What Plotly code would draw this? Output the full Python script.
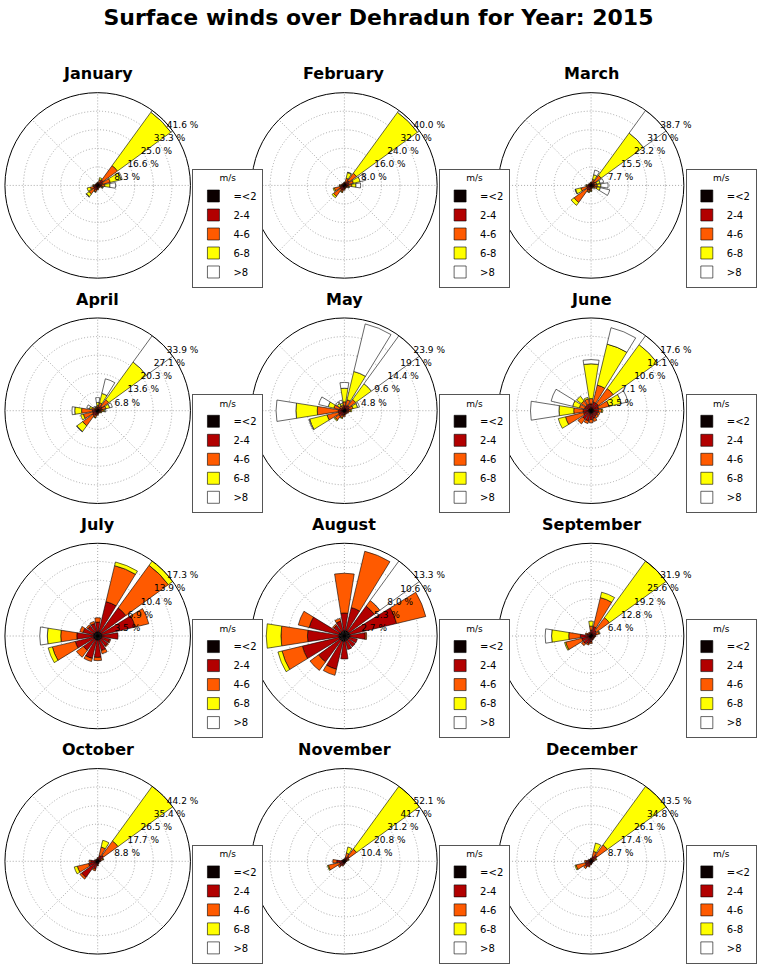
import plotly.graph_objects as go

W, H = 757, 964

months = ["January", "February", "March", "April", "May", "June",
          "July", "August", "September", "October", "November", "December"]
directions = [0, 22.5, 45, 67.5, 90, 112.5, 135, 157.5,
              180, 202.5, 225, 247.5, 270, 292.5, 315, 337.5]
speed_bins = ["=<2", "2-4", "4-6", "6-8", ">8"]
bin_colors = ["#0b0000", "#b20000", "#ff5a00", "#ffff00", "#ffffff"]

# radial tick labels (%) per month, as printed
tick_labels = {
    "January":   [8.3, 16.6, 25.0, 33.3, 41.6],
    "February":  [8.0, 16.0, 24.0, 32.0, 40.0],
    "March":     [7.7, 15.5, 23.2, 31.0, 38.7],
    "April":     [6.8, 13.6, 20.3, 27.1, 33.9],
    "May":       [4.8, 9.6, 14.4, 19.1, 23.9],
    "June":      [3.5, 7.1, 10.6, 14.1, 17.6],
    "July":      [3.5, 6.9, 10.4, 13.9, 17.3],
    "August":    [2.7, 5.3, 8.0, 10.6, 13.3],
    "September": [6.4, 12.8, 19.2, 25.6, 31.9],
    "October":   [8.8, 17.7, 26.5, 35.4, 44.2],
    "November":  [10.4, 20.8, 31.2, 41.7, 52.1],
    "December":  [8.7, 17.4, 26.1, 34.8, 43.5],
}

# frequency (%) per direction (N, NNE, ..., NNW); one list per speed bin
jan_le2 = [0.5, 0.6, 1.0, 0.8, 0.7, 0.6, 0.5, 0.5, 0.6, 0.7, 0.8, 0.7, 0.6, 0.5, 0.4, 0.4]
jan_2_4 = [0.6, 0.8, 2.0, 1.5, 1.0, 0.8, 0.5, 0.6, 1.0, 1.5, 1.6, 1.2, 0.8, 0.5, 0.4, 0.5]
jan_4_6 = [0.3, 1.2, 8.0, 3.5, 1.5, 0.6, 0.3, 0.3, 0.5, 0.8, 2.4, 1.5, 0.6, 0.3, 0.2, 0.3]
jan_6_8 = [0.0, 1.0, 29.6, 5.0, 2.3, 0.4, 0.0, 0.0, 0.0, 0.2, 1.5, 1.5, 0.2, 0.0, 0.0, 0.0]
jan_gt8 = [0.0, 0.0, 1.0, 0.5, 2.5, 0.2, 0.0, 0.0, 0.0, 0.0, 0.2, 0.0, 0.0, 0.0, 0.0, 0.0]

feb_le2 = [0.5, 0.6, 1.0, 0.8, 0.7, 0.6, 0.5, 0.5, 0.6, 0.7, 0.8, 0.7, 0.6, 0.5, 0.4, 0.4]
feb_2_4 = [0.6, 0.8, 1.5, 1.2, 1.0, 0.7, 0.5, 0.6, 1.0, 1.5, 1.5, 1.3, 0.8, 0.5, 0.4, 0.5]
feb_4_6 = [0.3, 1.8, 4.0, 2.0, 1.5, 0.5, 0.3, 0.3, 0.5, 0.8, 3.5, 2.5, 0.6, 0.3, 0.2, 0.3]
feb_6_8 = [0.0, 2.5, 32.5, 3.0, 1.8, 0.3, 0.0, 0.0, 0.0, 0.2, 0.8, 0.5, 0.2, 0.0, 0.0, 0.0]
feb_gt8 = [0.0, 0.2, 1.0, 2.5, 2.0, 0.2, 0.0, 0.0, 0.0, 0.0, 0.0, 0.0, 0.0, 0.0, 0.0, 0.0]

mar_le2 = [0.5, 0.6, 0.8, 0.6, 0.6, 0.6, 0.5, 0.5, 0.5, 0.6, 0.8, 0.7, 0.6, 0.5, 0.4, 0.4]
mar_2_4 = [0.6, 0.8, 1.2, 0.8, 0.8, 0.8, 0.5, 0.5, 1.0, 1.5, 1.5, 1.2, 0.8, 0.5, 0.4, 0.5]
mar_4_6 = [0.3, 1.2, 3.2, 1.0, 1.2, 1.2, 0.3, 0.3, 0.8, 0.8, 6.5, 2.5, 0.6, 0.3, 0.2, 0.3]
mar_6_8 = [0.0, 2.0, 21.8, 1.5, 1.5, 1.4, 0.2, 0.0, 0.2, 0.2, 1.5, 2.3, 0.2, 0.0, 0.0, 0.0]
mar_gt8 = [0.0, 2.0, 11.7, 1.5, 3.0, 4.0, 0.5, 0.0, 0.0, 0.0, 0.0, 0.2, 0.0, 0.0, 0.0, 0.0]

apr_le2 = [0.5, 0.6, 0.8, 0.6, 0.5, 0.5, 0.4, 0.4, 0.5, 0.6, 0.8, 0.7, 0.7, 0.5, 0.4, 0.4]
apr_2_4 = [0.7, 0.9, 1.2, 1.0, 0.8, 0.6, 0.4, 0.5, 0.8, 1.2, 1.5, 1.2, 1.2, 0.8, 0.5, 0.5]
apr_4_6 = [0.8, 1.5, 3.0, 1.5, 0.8, 0.3, 0.2, 0.2, 0.4, 0.8, 4.5, 3.5, 4.0, 1.0, 0.4, 0.4]
apr_6_8 = [1.0, 3.5, 17.0, 1.4, 0.5, 0.2, 0.0, 0.0, 0.0, 0.2, 2.6, 1.0, 2.5, 0.8, 0.3, 0.2]
apr_gt8 = [1.8, 5.5, 11.9, 1.0, 0.4, 0.0, 0.0, 0.0, 0.0, 0.0, 0.2, 0.0, 1.0, 1.0, 0.3, 0.2]

may_le2 = [0.5, 0.6, 0.6, 0.5, 0.5, 0.4, 0.4, 0.4, 0.5, 0.5, 0.6, 0.6, 0.6, 0.5, 0.4, 0.4]
may_2_4 = [0.8, 0.8, 1.0, 0.8, 0.6, 0.5, 0.4, 0.4, 0.6, 0.8, 1.2, 1.0, 1.0, 0.8, 0.5, 0.5]
may_4_6 = [1.0, 1.5, 2.0, 1.0, 0.5, 0.3, 0.2, 0.2, 0.4, 0.6, 1.2, 3.0, 5.4, 1.5, 0.6, 0.5]
may_6_8 = [3.5, 7.5, 5.0, 1.2, 0.3, 0.0, 0.0, 0.0, 0.0, 0.2, 0.3, 4.6, 5.5, 1.5, 0.8, 0.6]
may_gt8 = [1.5, 12.6, 15.3, 0.5, 0.0, 0.0, 0.0, 0.0, 0.0, 0.0, 0.0, 0.2, 5.1, 2.5, 0.5, 0.8]

jun_le2 = [0.5, 0.5, 0.5, 0.5, 0.5, 0.5, 0.5, 0.5, 0.5, 0.5, 0.5, 0.5, 0.5, 0.5, 0.5, 0.5]
jun_2_4 = [0.8, 1.2, 1.2, 1.0, 0.9, 0.8, 0.8, 1.0, 1.2, 1.5, 1.5, 1.0, 1.0, 0.8, 0.8, 0.8]
jun_4_6 = [1.0, 3.3, 3.5, 2.0, 0.6, 0.4, 0.4, 0.6, 0.6, 0.5, 1.1, 3.5, 1.8, 1.0, 1.0, 1.0]
jun_6_8 = [6.6, 8.0, 10.3, 2.4, 0.2, 0.0, 0.0, 0.0, 0.0, 0.0, 0.0, 1.4, 2.8, 1.3, 1.1, 0.3]
jun_gt8 = [0.8, 3.2, 2.1, 1.3, 0.0, 0.0, 0.0, 0.0, 0.0, 0.0, 0.0, 0.0, 5.4, 4.2, 0.0, 0.0]

jul_le2 = [0.8, 0.8, 0.8, 0.8, 0.8, 0.8, 0.8, 0.8, 0.8, 0.8, 0.8, 0.8, 0.8, 0.8, 0.8, 0.8]
jul_2_4 = [1.8, 5.8, 5.7, 6.4, 3.0, 1.5, 1.5, 2.0, 3.2, 3.5, 2.5, 3.5, 3.1, 2.0, 1.5, 1.6]
jul_4_6 = [0.8, 6.9, 9.8, 2.6, 0.0, 0.2, 0.2, 0.6, 0.6, 0.6, 1.6, 4.4, 3.0, 0.6, 0.3, 0.4]
jul_6_8 = [0.0, 0.7, 1.0, 0.0, 0.0, 0.0, 0.0, 0.0, 0.0, 0.0, 0.0, 0.8, 2.5, 0.0, 0.0, 0.0]
jul_gt8 = [0.0, 0.0, 0.0, 0.0, 0.0, 0.0, 0.0, 0.0, 0.0, 0.0, 0.0, 0.0, 1.4, 0.0, 0.0, 0.0]

aug_le2 = [0.8, 0.8, 0.8, 0.8, 0.8, 0.7, 0.7, 0.7, 0.8, 0.8, 0.8, 0.8, 0.8, 0.8, 0.7, 0.7]
aug_2_4 = [2.5, 3.4, 4.5, 6.9, 2.2, 1.2, 1.2, 1.3, 2.5, 4.1, 3.8, 5.4, 4.5, 4.4, 1.2, 1.5]
aug_4_6 = [5.7, 8.3, 1.0, 4.3, 0.2, 0.0, 0.0, 0.0, 0.0, 0.9, 1.5, 3.0, 3.8, 1.6, 0.2, 0.4]
aug_6_8 = [0.0, 0.0, 0.0, 0.0, 0.0, 0.0, 0.0, 0.0, 0.0, 0.0, 0.0, 0.6, 2.1, 0.0, 0.0, 0.0]
aug_gt8 = [0.0, 0.0, 7.0, 0.0, 0.0, 0.0, 0.0, 0.0, 0.0, 0.0, 0.0, 0.0, 0.0, 0.0, 0.0, 0.0]

sep_le2 = [0.8, 0.8, 0.8, 0.7, 0.6, 0.5, 0.5, 0.5, 0.6, 0.7, 0.8, 0.8, 0.8, 0.6, 0.5, 0.5]
sep_2_4 = [1.2, 2.5, 1.5, 1.2, 0.8, 0.6, 0.6, 0.8, 1.5, 2.0, 2.5, 2.5, 2.9, 1.0, 0.6, 0.6]
sep_4_6 = [1.4, 10.3, 5.5, 1.0, 0.3, 0.2, 0.2, 0.2, 0.5, 0.5, 0.8, 5.7, 4.0, 0.5, 0.3, 0.3]
sep_6_8 = [1.7, 1.9, 24.1, 0.3, 0.0, 0.0, 0.0, 0.0, 0.0, 0.0, 0.0, 0.4, 5.9, 0.0, 0.0, 0.0]
sep_gt8 = [0.0, 0.0, 1.0, 0.0, 0.0, 0.0, 0.0, 0.0, 0.0, 0.0, 0.0, 0.0, 2.2, 0.0, 0.0, 0.0]

oct_le2 = [0.6, 0.8, 1.0, 0.7, 0.6, 0.5, 0.5, 0.5, 0.7, 0.9, 1.0, 1.0, 0.8, 0.6, 0.5, 0.5]
oct_2_4 = [0.8, 2.0, 2.5, 1.0, 0.6, 0.4, 0.4, 0.6, 1.2, 3.0, 8.5, 3.5, 2.5, 0.8, 0.5, 0.5]
oct_4_6 = [0.4, 4.2, 8.5, 1.0, 0.2, 0.0, 0.0, 0.1, 0.3, 0.8, 1.0, 5.5, 0.8, 0.2, 0.1, 0.2]
oct_6_8 = [0.0, 3.3, 32.2, 0.3, 0.0, 0.0, 0.0, 0.0, 0.0, 0.0, 0.0, 1.5, 0.0, 0.0, 0.0, 0.0]
oct_gt8 = [0.0, 0.0, 0.0, 0.0, 0.0, 0.0, 0.0, 0.0, 0.0, 0.0, 0.0, 0.0, 0.0, 0.0, 0.0, 0.0]

nov_le2 = [0.6, 0.8, 1.0, 0.7, 0.6, 0.5, 0.5, 0.5, 0.6, 0.8, 0.8, 0.8, 0.8, 0.6, 0.5, 0.5]
nov_2_4 = [0.6, 1.5, 2.5, 1.0, 0.6, 0.4, 0.4, 0.5, 0.8, 1.5, 2.5, 2.0, 3.5, 0.8, 0.5, 0.5]
nov_4_6 = [0.3, 2.5, 5.0, 0.8, 0.2, 0.0, 0.0, 0.1, 0.2, 0.5, 1.0, 6.5, 2.2, 0.2, 0.1, 0.2]
nov_6_8 = [0.0, 3.5, 43.6, 0.3, 0.0, 0.0, 0.0, 0.0, 0.0, 0.0, 0.0, 0.5, 0.0, 0.0, 0.0, 0.0]
nov_gt8 = [0.0, 0.0, 0.0, 0.0, 0.0, 0.0, 0.0, 0.0, 0.0, 0.0, 0.0, 0.0, 0.0, 0.0, 0.0, 0.0]

dec_le2 = [0.6, 0.8, 1.0, 0.7, 0.6, 0.5, 0.5, 0.5, 0.6, 0.8, 0.8, 0.8, 0.7, 0.6, 0.5, 0.5]
dec_2_4 = [0.6, 1.5, 2.5, 1.0, 0.6, 0.4, 0.4, 0.5, 0.8, 1.5, 2.5, 2.0, 1.5, 0.8, 0.5, 0.5]
dec_4_6 = [0.3, 2.5, 6.0, 0.8, 0.2, 0.0, 0.0, 0.1, 0.2, 0.5, 1.0, 4.5, 0.8, 0.2, 0.1, 0.2]
dec_6_8 = [0.0, 4.0, 34.0, 0.3, 0.0, 0.0, 0.0, 0.0, 0.0, 0.0, 0.0, 0.5, 0.0, 0.0, 0.0, 0.0]
dec_gt8 = [0.0, 0.0, 0.0, 0.0, 0.0, 0.0, 0.0, 0.0, 0.0, 0.0, 0.0, 0.0, 0.0, 0.0, 0.0, 0.0]

month_data = {
    "January":   [jan_le2, jan_2_4, jan_4_6, jan_6_8, jan_gt8],
    "February":  [feb_le2, feb_2_4, feb_4_6, feb_6_8, feb_gt8],
    "March":     [mar_le2, mar_2_4, mar_4_6, mar_6_8, mar_gt8],
    "April":     [apr_le2, apr_2_4, apr_4_6, apr_6_8, apr_gt8],
    "May":       [may_le2, may_2_4, may_4_6, may_6_8, may_gt8],
    "June":      [jun_le2, jun_2_4, jun_4_6, jun_6_8, jun_gt8],
    "July":      [jul_le2, jul_2_4, jul_4_6, jul_6_8, jul_gt8],
    "August":    [aug_le2, aug_2_4, aug_4_6, aug_6_8, aug_gt8],
    "September": [sep_le2, sep_2_4, sep_4_6, sep_6_8, sep_gt8],
    "October":   [oct_le2, oct_2_4, oct_4_6, oct_6_8, oct_gt8],
    "November":  [nov_le2, nov_2_4, nov_4_6, nov_6_8, nov_gt8],
    "December":  [dec_le2, dec_2_4, dec_4_6, dec_6_8, dec_gt8],
}

FONT = "DejaVu Sans"
col_cx = [99, 349, 599]
row_cy = [186, 412, 638, 864]
R = 94
GRID = "#a8a8a8"

fig = go.Figure()
layout_extra = {}
annotations = []

for i, m in enumerate(months):
    r_i, c_i = divmod(i, 3)
    cx, cy = col_cx[c_i], row_cy[r_i]
    pname = "polar" if i == 0 else f"polar{i+1}"
    lname = "legend" if i == 0 else f"legend{i+1}"
    for b, (lab, col) in enumerate(zip(speed_bins, bin_colors)):
        fig.add_trace(go.Barpolar(
            r=month_data[m][b], theta=directions, width=18,
            name=lab, marker=dict(color=col, line=dict(color="black", width=0.6)),
            subplot=pname, legend=lname, showlegend=True,
        ))
    ticks = tick_labels[m]
    layout_extra[pname] = dict(
        domain=dict(x=[(cx - R) / W, (cx + R) / W],
                    y=[1 - (cy + R) / H, 1 - (cy - R) / H]),
        bgcolor="white",
        barmode="stack",
        angularaxis=dict(direction="clockwise", rotation=90,
                         tickvals=[0, 45, 90, 135, 180, 225, 270, 315],
                         showticklabels=False, ticks="",
                         gridcolor=GRID, griddash="1px,2px", gridwidth=1,
                         showline=True, linecolor="black", linewidth=1),
        radialaxis=dict(range=[0, ticks[-1]], tickvals=ticks,
                        ticktext=[f"{t:.1f} %" for t in ticks],
                        angle=45, tickangle=45, showline=False, ticks="",
                        gridcolor=GRID, griddash="1px,2px", gridwidth=1,
                        tickfont=dict(family=FONT, size=9, color="black")),
    )
    layout_extra[lname] = dict(
        x=(cx + 96) / W, y=1 - (cy + 43) / H, xanchor="left", yanchor="middle",
        bgcolor="white", bordercolor="#555555", borderwidth=1,
        title=dict(text="m/s", side="top center", font=dict(family=FONT, size=9)),
        font=dict(family=FONT, size=10, color="black"),
        traceorder="normal", itemwidth=30, tracegroupgap=0,
    )
    annotations.append(dict(
        text=m, x=cx / W, y=1 - (cy - 112) / H, xref="paper", yref="paper",
        xanchor="center", yanchor="middle", showarrow=False,
        font=dict(family=FONT, size=16, color="black", weight="bold"),
    ))

fig.update_layout(
    width=W, height=H,
    margin=dict(l=0, r=0, t=0, b=0),
    paper_bgcolor="white",
    title=dict(text="Surface winds over Dehradun for Year: 2015",
               x=0.5, xanchor="center", y=1 - 17 / H, yanchor="middle",
               font=dict(family=FONT, size=22, color="black", weight="bold")),
    annotations=annotations,
    **layout_extra,
)

fig.write_html("out.html")
